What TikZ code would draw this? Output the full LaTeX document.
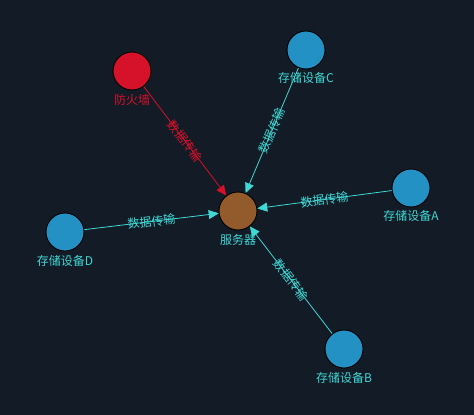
\documentclass[tikz,border=0pt]{standalone}
\usepackage{fontspec}
\newfontfamily\cjk{Noto Sans CJK SC}
\usetikzlibrary{arrows.meta}
\definecolor{bgcol}{HTML}{131B27}
\definecolor{devblue}{HTML}{2491C4}
\definecolor{fwred}{HTML}{D6112A}
\definecolor{srvbrown}{HTML}{935A2C}
\definecolor{linkcyan}{HTML}{3FD8D4}
\tikzset{
  dev/.style={circle, draw=black, line width=0.9pt, minimum size=38pt, inner sep=0pt, fill=devblue},
  tag/.style={font=\cjk\fontsize{12}{14}\selectfont, text=linkcyan, inner sep=0pt},
  link/.style={draw=linkcyan, line width=0.8pt, -{Triangle[length=10pt,width=9pt]}},
  lbl/.style={font=\cjk\fontsize{12}{14}\selectfont, text=linkcyan, sloped, inner sep=0pt}
}
\begin{document}
\begin{tikzpicture}[x=1pt, y=-1pt]
    \fill[bgcol] (0,0) rectangle (474,415);
    \useasboundingbox (0,0) rectangle (474,415);

    \node[dev, fill=srvbrown] (srv) at (238, 211) {};
    \node[dev, fill=fwred] (fw) at (132, 71) {};
    \node[dev] (devA) at (411, 188) {};
    \node[dev] (devB) at (344, 349) {};
    \node[dev] (devC) at (306, 50) {};
    \node[dev] (devD) at (65, 232) {};

    \node[tag] (srvtag) at (238, 240) {服务器};
    \node[tag, text=fwred] (fwtag) at (132, 100) {防火墙};
    \node[tag] (devAtag) at (411, 216) {存储设备A};
    \node[tag] (devBtag) at (344, 378) {存储设备B};
    \node[tag] (devCtag) at (306, 78) {存储设备C};
    \node[tag] (devDtag) at (65, 261) {存储设备D};

    \draw[link, draw=fwred] (fw) -- node[lbl, text=fwred] {数据传输} (srv);
    \draw[link] (devC) -- node[lbl] {数据传输} (srv);
    \draw[link] (devA) -- node[lbl] {数据传输} (srv);
    \draw[link] (devD) -- node[lbl] {数据传输} (srv);
    \draw[link] (devB) -- node[lbl] {数据传输} (srv);

\end{tikzpicture}
\end{document}
